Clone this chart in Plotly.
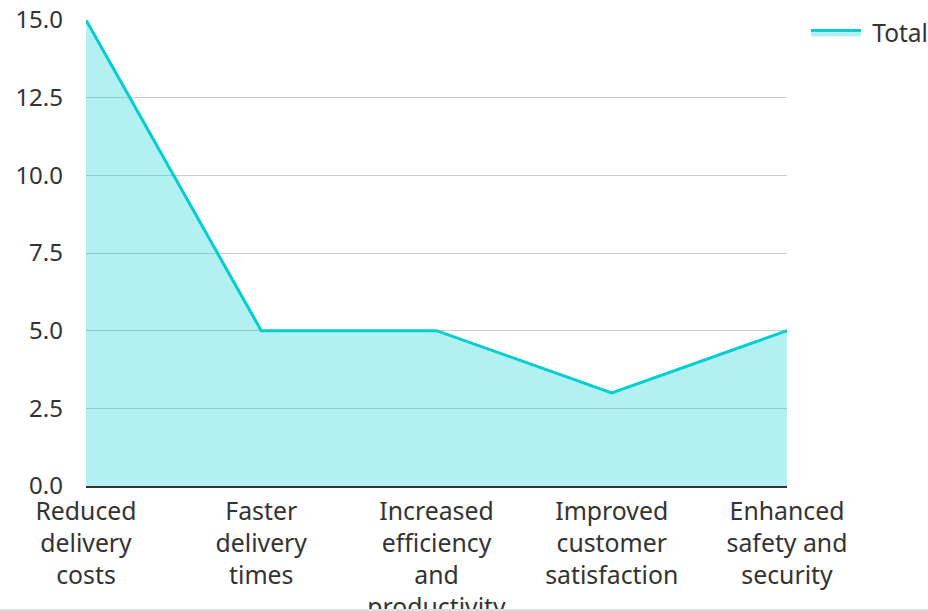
import plotly.graph_objects as go

categories = ["Reduced<br>delivery<br>costs", "Faster<br>delivery<br>times",
              "Increased<br>efficiency<br>and<br>productivity",
              "Improved<br>customer<br>satisfaction", "Enhanced<br>safety and<br>security"]
values = [15, 5, 5, 3, 5]
series_name = "Total"
ytick_vals = [0, 2.5, 5, 7.5, 10, 12.5, 15]

fig = go.Figure()
fig.add_trace(go.Scatter(
    x=list(range(len(categories))), y=values, name="\u00a0" + series_name,
    mode="lines", fill="tozeroy",
    line=dict(color="#00CED1", width=3),
    fillcolor="rgba(0,206,209,0.3)",
    showlegend=True,
))

fig.update_layout(
    width=960, height=611,
    margin=dict(l=86, r=173, t=20, b=125, autoexpand=False),
    paper_bgcolor="white", plot_bgcolor="white",
    font=dict(family="Noto Sans", size=24, color="#333333"),
    legend=dict(x=1.027, y=1.0215, xanchor="left", yanchor="top",
                itemwidth=50,
                font=dict(size=24.5, color="#333333"), tracegroupgap=0),
    xaxis=dict(
        range=[0, 4], tickmode="array", tickvals=list(range(len(categories))),
        ticktext=categories, showgrid=False, zeroline=False,
        showline=True, linecolor="#333333", linewidth=2, ticks="",
        tickangle=0, automargin=False, ticklabeloverflow="allow",
        tickfont=dict(size=24.8), ticklabelstandoff=2,
    ),
    yaxis=dict(
        range=[0, 15], tickmode="array", tickvals=ytick_vals,
        ticktext=[f"{v:.1f}" for v in ytick_vals],
        showgrid=True, gridcolor="#cccccc", gridwidth=1, zeroline=False,
        showline=False, ticks="", ticklabelstandoff=22, automargin=False,
        ticklabeloverflow="allow",
    ),
)

fig.add_shape(type="rect", xref="paper", yref="paper",
              x0=-0.2, x1=1.3, y0=-(609 - 486) / 466, y1=-(614 - 486) / 466,
              fillcolor="#dddddd", line=dict(width=0), layer="above")

fig.write_html(
    "out.html",
    config={"displayModeBar": False},
    post_script="document.body.style.margin='0';"
                "document.documentElement.style.overflow='hidden';"
                "document.body.style.overflow='hidden';",
)
